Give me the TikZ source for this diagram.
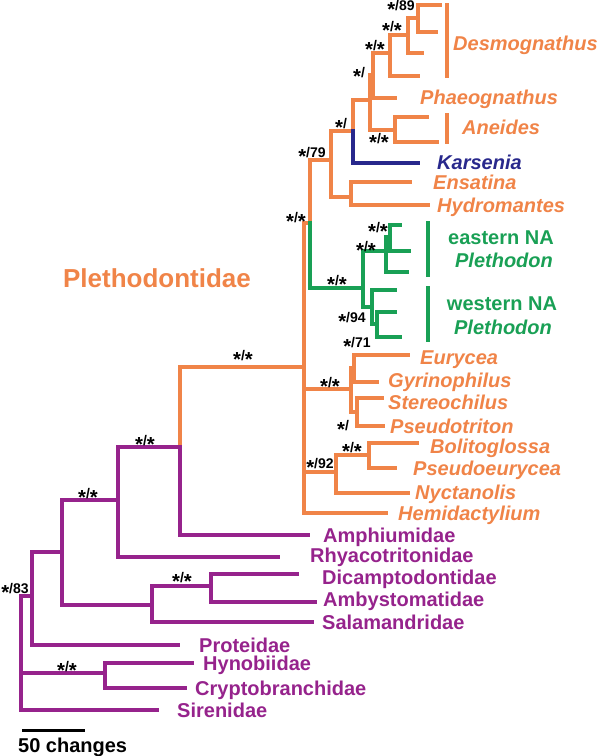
\documentclass[tikz,border=0pt]{standalone}
\usepackage{fontspec}
\setmainfont{Liberation Sans}
\usepackage{graphicx}
\definecolor{plor}{RGB}{240,132,72}
\definecolor{pur}{RGB}{150,35,140}
\definecolor{grn}{RGB}{25,160,85}
\definecolor{blu}{RGB}{40,40,140}
\newcommand{\sk}{\smash{\raisebox{-0.47em}{\scalebox{1.45}{*}}}}
\begin{document}
\begin{tikzpicture}[x=1pt,y=-1pt,
  br/.style={line width=3.2pt,line cap=rect},
  tax/.style={inner sep=0pt,anchor=base west,font=\fontsize{20}{20}\selectfont\bfseries},
  otax/.style={tax,text=plor,font=\fontsize{20}{20}\selectfont\bfseries\itshape},
  ptax/.style={tax,text=pur},
  gtax/.style={inner sep=0pt,anchor=base,text=grn,font=\fontsize{20}{20}\selectfont\bfseries},
  supp/.style={inner sep=0pt,anchor=base,font=\fontsize{14}{14}\selectfont\bfseries}]
\useasboundingbox (0,0) rectangle (600,756);
% internal nodes
\coordinate (root) at (21,596);
\coordinate (n32) at (32,596);
\coordinate (n62) at (62,552);
\coordinate (n118) at (118,500);
\coordinate (n180) at (180,447);
\coordinate (n304) at (304,367);
\coordinate (n310) at (310,223);
\coordinate (n331) at (331,160);
\coordinate (n353) at (353,131);
\coordinate (n370) at (370,100);
\coordinate (n373) at (373,75);
\coordinate (n390) at (390,53);
\coordinate (n408) at (408,35);
\coordinate (n418) at (418,18);
\coordinate (n395) at (395,130);
\coordinate (n351) at (351,197);
\coordinate (n363) at (363,288);
\coordinate (n386) at (386,251);
\coordinate (n390e) at (390,237);
\coordinate (n372) at (372,307);
\coordinate (n377) at (377,324);
\coordinate (n351b) at (351,389);
\coordinate (n354) at (354,368);
\coordinate (n357) at (357,412);
\coordinate (n336) at (336,472);
\coordinate (n369b) at (369,455);
\coordinate (n152) at (152,605);
\coordinate (n211) at (211,586);
\coordinate (n105) at (105,673);
% tips
\coordinate (t1) at (440,5);
\coordinate (t2) at (436,32);
\coordinate (t3) at (422,53);
\coordinate (t4) at (418,76);
\coordinate (tPh) at (395,98);
\coordinate (tA1) at (427,117);
\coordinate (tA2) at (437,142);
\coordinate (tK) at (418,163);
\coordinate (tEn) at (410,182);
\coordinate (tHy) at (428,205);
\coordinate (e1) at (400,225);
\coordinate (e2) at (409,251);
\coordinate (e3) at (407,272);
\coordinate (w1) at (395,290);
\coordinate (w2) at (395,312);
\coordinate (w3) at (400,337);
\coordinate (tEu) at (408,355);
\coordinate (tGy) at (377,382);
\coordinate (tSt) at (382,398);
\coordinate (tPs) at (383,426);
\coordinate (tBo) at (417,443);
\coordinate (tPe) at (395,468);
\coordinate (tNy) at (408,493);
\coordinate (tHe) at (386,513);
\coordinate (tAm) at (308,535);
\coordinate (tRh) at (278,557);
\coordinate (tDi) at (297,574);
\coordinate (tAb) at (315,602);
\coordinate (tSa) at (312,622);
\coordinate (tPr) at (178,645);
\coordinate (tHn) at (192,663);
\coordinate (tCr) at (185,688);
\coordinate (tSi) at (157,710);
% orange branches
\begin{scope}[br,draw=plor]
\draw (n418)|-(t1); \draw (n418)|-(t2);
\draw (n408)|-(n418); \draw (n408)|-(t3);
\draw (n390)|-(n408); \draw (n390)|-(t4);
\draw (n373)|-(n390); \draw (n373)|-(tPh);
\draw (n370)|-(n373); \draw (n370)|-(n395);
\draw (n395)|-(tA1); \draw (n395)|-(tA2);
\draw (n353)|-(n370);
\draw (n331)|-(n353); \draw (n331)|-(n351);
\draw (n351)|-(tEn); \draw (n351)|-(tHy);
\draw (n310)|-(n331);
\draw (n304)|-(n310); \draw (n304)|-(n351b); \draw (n304)|-(n336); \draw (n304)|-(tHe);
\draw (n351b)|-(n354); \draw (n351b)|-(n357);
\draw (n354)|-(tEu); \draw (n354)|-(tGy);
\draw (n357)|-(tSt); \draw (n357)|-(tPs);
\draw (n336)|-(n369b); \draw (n336)|-(tNy);
\draw (n369b)|-(tBo); \draw (n369b)|-(tPe);
\draw (n180)|-(n304);
\draw (447,5)--(447,76);
\draw (447,115)--(447,142);
\end{scope}
\draw[br,blu] (n353)|-(tK);
% green branches
\begin{scope}[br,draw=grn]
\draw (n310)|-(n363);
\draw (n363)|-(n386); \draw (n363)|-(n372);
\draw (n386)|-(n390e); \draw (n386)|-(e3);
\draw (n390e)|-(e1); \draw (n390e)|-(e2);
\draw (n372)|-(w1); \draw (n372)|-(n377);
\draw (n377)|-(w2); \draw (n377)|-(w3);
\draw (428,223)--(428,275);
\draw (428,288)--(428,340);
\end{scope}
% purple branches
\begin{scope}[br,draw=pur]
\draw (n180)|-(tAm);
\draw (n118)|-(n180); \draw (n118)|-(tRh);
\draw (n62)|-(n118); \draw (n62)|-(n152);
\draw (n152)|-(n211); \draw (n152)|-(tSa);
\draw (n211)|-(tDi); \draw (n211)|-(tAb);
\draw (n32)|-(n62); \draw (n32)|-(tPr);
\draw (root)|-(n32); \draw (root)|-(n105); \draw (root)|-(tSi);
\draw (n105)|-(tHn); \draw (n105)|-(tCr);
\end{scope}
% scale bar
\coordinate (sb1) at (22,730);
\coordinate (sb2) at (85,730);
\draw[line width=3pt] (sb1)--(sb2);
\node[tax] (lsb) at (18,752) {50 changes};
% orange labels
\node[otax] (lDe) at (453,50) {Desmognathus};
\node[otax] (lPh) at (420,104) {Phaeognathus};
\node[otax] (lAn) at (462,134) {Aneides};
\node[otax,text=blu] (lKa) at (437,169) {Karsenia};
\node[otax] (lEn) at (433,189) {Ensatina};
\node[otax] (lHy) at (437,212) {Hydromantes};
\node[gtax] (lE1) at (501,244) {eastern NA};
\node[gtax,font=\fontsize{20}{20}\selectfont\bfseries\itshape] (lE2) at (504,267) {Plethodon};
\node[gtax] (lW1) at (502,310) {western NA};
\node[gtax,font=\fontsize{20}{20}\selectfont\bfseries\itshape] (lW2) at (503,334) {Plethodon};
\node[otax] (lEu) at (420,364) {Eurycea};
\node[otax] (lGy) at (388,387) {Gyrinophilus};
\node[otax] (lSt) at (388,409) {Stereochilus};
\node[otax] (lPs) at (390,433) {Pseudotriton};
\node[otax] (lBo) at (430,453) {Bolitoglossa};
\node[otax] (lPe) at (413,475) {Pseudoeurycea};
\node[otax] (lNy) at (415,499) {Nyctanolis};
\node[otax] (lHe) at (398,520) {Hemidactylium};
% purple labels
\node[ptax] (lAm) at (323,542) {Amphiumidae};
\node[ptax] (lRh) at (310,562) {Rhyacotritonidae};
\node[ptax] (lDi) at (322,584) {Dicamptodontidae};
\node[ptax] (lAb) at (323,606) {Ambystomatidae};
\node[ptax] (lSa) at (322,629) {Salamandridae};
\node[ptax] (lPr) at (199,652) {Proteidae};
\node[ptax] (lHn) at (203,670) {Hynobiidae};
\node[ptax] (lCr) at (195,695) {Cryptobranchidae};
\node[ptax] (lSi) at (177,717) {Sirenidae};
\node[inner sep=0pt,anchor=base,text=plor,font=\fontsize{26}{26}\selectfont\bfseries] (lPl) at (157,287) {Plethodontidae};
% support values
\node[supp] (s1) at (401,10) {\sk/89};
\node[supp] (s2) at (392,31) {\sk/\sk};
\node[supp] (s3) at (375,50) {\sk/\sk};
\node[supp] (s4) at (359,77) {\sk/};
\node[supp] (s5) at (341,128) {\sk/};
\node[supp] (s6) at (379,143) {\sk/\sk};
\node[supp] (s7) at (312,157) {\sk/79};
\node[supp] (s8) at (296,222) {\sk/\sk};
\node[supp] (s9) at (378,232) {\sk/\sk};
\node[supp] (s10) at (366,251) {\sk/\sk};
\node[supp] (s11) at (337,285) {\sk/\sk};
\node[supp] (s12) at (352,322) {\sk/94};
\node[supp] (s13) at (357,347) {\sk/71};
\node[supp] (s14) at (330,387) {\sk/\sk};
\node[supp] (s15) at (343,430) {\sk/};
\node[supp] (s16) at (352,452) {\sk/\sk};
\node[supp] (s17) at (320,468) {\sk/92};
\node[supp] (s18) at (243,360) {\sk/\sk};
\node[supp] (s19) at (145,445) {\sk/\sk};
\node[supp] (s20) at (88,498) {\sk/\sk};
\node[supp] (s21) at (182,582) {\sk/\sk};
\node[supp] (s22) at (15,593) {\sk/83};
\node[supp] (s23) at (67,671) {\sk/\sk};
\end{tikzpicture}
\end{document}
